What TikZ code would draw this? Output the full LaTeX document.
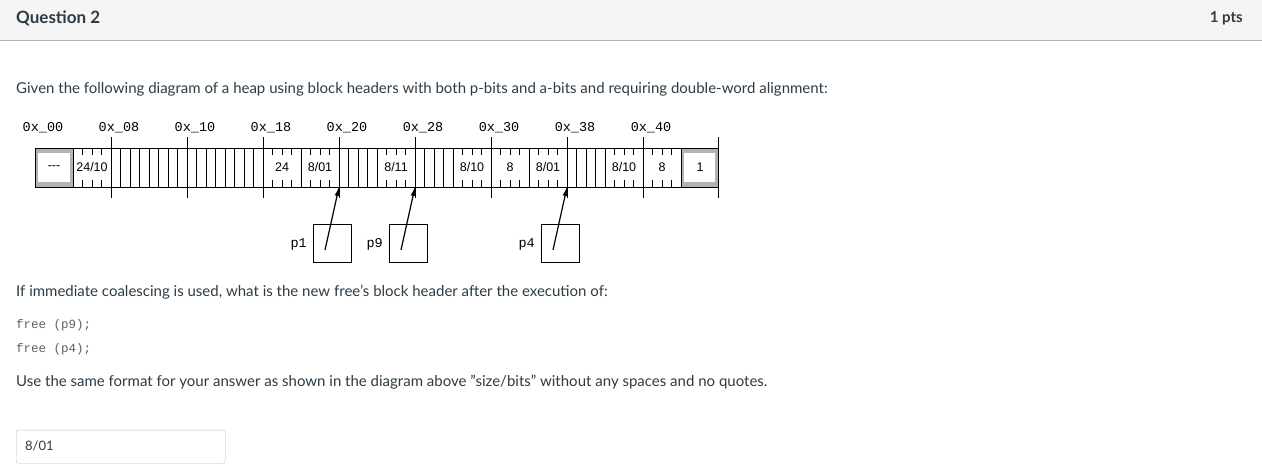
\documentclass[tikz,border=0pt]{standalone}
\usepackage{fontspec}
\setmainfont{Lato}
\newfontfamily\cellfont{Liberation Sans}
\newfontfamily\codefont{Liberation Mono}
\usetikzlibrary{arrows.meta}
\definecolor{txt}{HTML}{2D3B45}
\begin{document}
\begin{tikzpicture}[x=1pt,y=-1pt,
  body/.style={anchor=west,inner sep=0pt,text=txt,font=\fontsize{15}{18}\selectfont},
  addr/.style={inner sep=0pt,font=\codefont\fontsize{13.5}{15}\selectfont},
  cell/.style={inner sep=0pt,font=\cellfont\fontsize{12.5}{14}\selectfont},
  code/.style={anchor=west,inner sep=0pt,text=gray!75!black,font=\codefont\fontsize{12.5}{14}\selectfont},
  ptr/.style={draw,minimum width=38pt,minimum height=38pt,inner sep=0pt,line width=0.7pt},
  arr/.style={-{Latex[length=9pt,width=5pt]},line width=1.2pt}]
\useasboundingbox (0,0) rectangle (1262,470);
\fill[gray!8] (0,0) rectangle (1262,40);
\draw[gray!60] (0,40) -- (1262,40);
\node[body,font=\bfseries\fontsize{17}{20}\selectfont] (q) at (16,18) {Question 2};
\node[body,anchor=east,font=\bfseries\fontsize{15}{18}\selectfont] (pts) at (1243,18) {1 pts};
\node[body] (intro) at (16,89) {Given the following diagram of a heap using block headers with both p-bits and a-bits and requiring double-word alignment:};
% heap bar
\def\Y{148}\def\B{187}
\foreach \a/\b in {35/73,681/718}{
  \fill[gray!60] (\a,\Y) rectangle (\b,\B);
  \fill[white] (\a+3,\Y+5) rectangle (\b-3,\B-5);
}
\draw[line width=0.7pt] (35,\Y) rectangle (718,\B);
\foreach \w in {0,...,17}{ \draw[line width=0.7pt] (35+38*\w,\Y) -- (35+38*\w,\B); }
\foreach \w in {1,6,7,9,11,12,13,15,16}{
  \foreach \k in {1,2,3}{
    \draw[line width=0.7pt] (35+38*\w+9.5*\k,\Y) -- +(0,7);
    \draw[line width=0.7pt] (35+38*\w+9.5*\k,\B) -- +(0,-7);
  }
}
\foreach \w in {2,3,4,5,8,10,14}{
  \foreach \k in {1,2,3}{
    \draw[line width=0.7pt] (35+38*\w+9.5*\k,\Y) -- (35+38*\w+9.5*\k,\B);
  }
}
\foreach \w/\t [count=\i] in {0/---,1/24\slash 10,6/24,7/8\slash 01,9/8\slash 11,11/8\slash 10,12/8,13/8\slash 01,15/8\slash 10,16/8,17/1}{
  \node[cell,fill=white,inner xsep=1pt,inner ysep=1.5pt] (c\i) at (35+38*\w+19,167.5) {\t};
}
\foreach \n/\t [count=\i from 0] in {0/0x\_00,1/0x\_08,2/0x\_10,3/0x\_18,4/0x\_20,5/0x\_28,6/0x\_30,7/0x\_38,8/0x\_40}{
  \node[addr] (a\i) at (35+76*\n+8,128) {\t};
  \ifnum\i>0 \draw[line width=0.7pt] (35+76*\n,137) -- (35+76*\n,198); \fi
  \coordinate (t\i) at (35+76*\n,187);
}
\draw[line width=0.7pt] (718,137) -- (718,198);
\node[ptr] (b1) at (332,243) {};
\node[ptr] (b9) at (408,243) {};
\node[ptr] (b4) at (560,243) {};
\node[addr,anchor=east] (l1) at (307,244) {p1};
\node[addr,anchor=east] (l9) at (383,244) {p9};
\node[addr,anchor=east] (l4) at (535,244) {p4};
\draw[arr] ([shift={(-7,7)}]b1.center) -- (t4);
\draw[arr] ([shift={(-7,7)}]b9.center) -- (t5);
\draw[arr] ([shift={(-7,7)}]b4.center) -- (t7);
\node[body] (q2) at (16,292) {If immediate coalescing is used, what is the new free's block header after the execution of:};
\node[code] (f1) at (16,325) {free (p9);};
\node[code] (f2) at (16,349) {free (p4);};
\node[body] (fmt) at (16,382) {Use the same format for your answer as shown in the diagram above \symbol{34}size/bits\symbol{34} without any spaces and no quotes.};
\node[draw=gray!50,rounded corners=2pt,minimum width=209pt,minimum height=33pt,anchor=north west] (ans) at (16,430) {};
\node[body,font=\fontsize{13}{15}\selectfont] (ansT) at (25,446) {8/01};
\end{tikzpicture}
\end{document}
